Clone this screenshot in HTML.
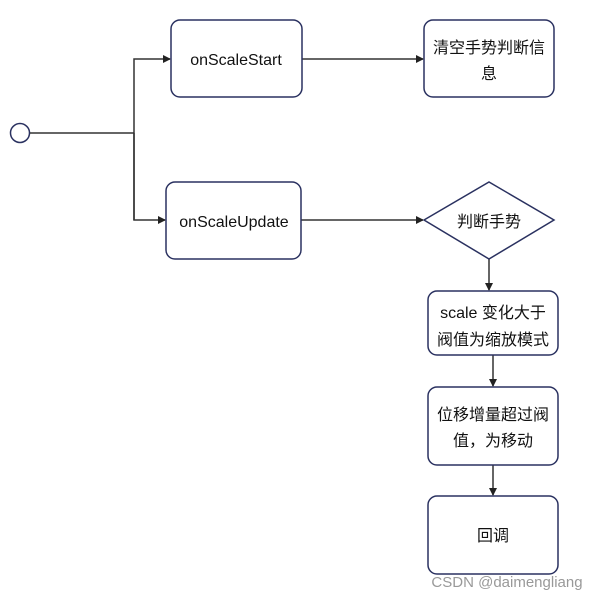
<!DOCTYPE html>
<html><head><meta charset="utf-8"><style>
html,body{margin:0;padding:0;background:#fff;}
svg text{font-family:"Liberation Sans","Noto Sans CJK SC",sans-serif;fill:#111;}
</style></head><body>
<svg width="607" height="601" viewBox="0 0 607 601" xmlns="http://www.w3.org/2000/svg">
<defs><marker id="a" markerWidth="8" markerHeight="8" refX="7" refY="4" orient="auto" markerUnits="userSpaceOnUse"><path d="M0,0 L8,4 L0,8 z" fill="#222"/></marker></defs>
<g stroke="#333" stroke-width="1.5" fill="none">
<circle cx="20" cy="133" r="9.5" stroke="#2a3160" fill="#fff"/>
<line x1="30" y1="133" x2="134" y2="133"/>
<polyline points="134,220 134,59 170,59" marker-end="url(#a)"/>
<polyline points="134,133 134,220 165,220" marker-end="url(#a)"/>
<line x1="302" y1="59" x2="423" y2="59" marker-end="url(#a)"/>
<line x1="301" y1="220" x2="423" y2="220" marker-end="url(#a)"/>
<line x1="489" y1="259" x2="489" y2="290" marker-end="url(#a)"/>
<line x1="493" y1="355" x2="493" y2="386" marker-end="url(#a)"/>
<line x1="493" y1="465" x2="493" y2="495" marker-end="url(#a)"/>
</g>
<g stroke="#2a3160" stroke-width="1.5" fill="#fff">
<rect x="171" y="20" width="131" height="77" rx="9"/>
<rect x="424" y="20" width="130" height="77" rx="9"/>
<rect x="166" y="182" width="135" height="77" rx="9"/>
<polygon points="424,220 489,182 554,220 489,259"/>
<rect x="428" y="291" width="130" height="64" rx="9"/>
<rect x="428" y="387" width="130" height="78" rx="9"/>
<rect x="428" y="496" width="130" height="78" rx="9"/>
</g>
<g font-size="16" text-anchor="middle">
<text x="236" y="65">onScaleStart</text>
<text x="489" y="53">清空手势判断信</text>
<text x="489" y="79">息</text>
<text x="234" y="227">onScaleUpdate</text>
<text x="489" y="227">判断手势</text>
<text x="493" y="318">scale 变化大于</text>
<text x="493" y="345">阀值为缩放模式</text>
<text x="493" y="420">位移增量超过阀</text>
<text x="493" y="446">值，为移动</text>
<text x="493" y="541">回调</text>
</g>
<text x="507" y="587" font-size="15" text-anchor="middle" style="fill:#999">CSDN @daimengliang</text>
</svg>
</body></html>
